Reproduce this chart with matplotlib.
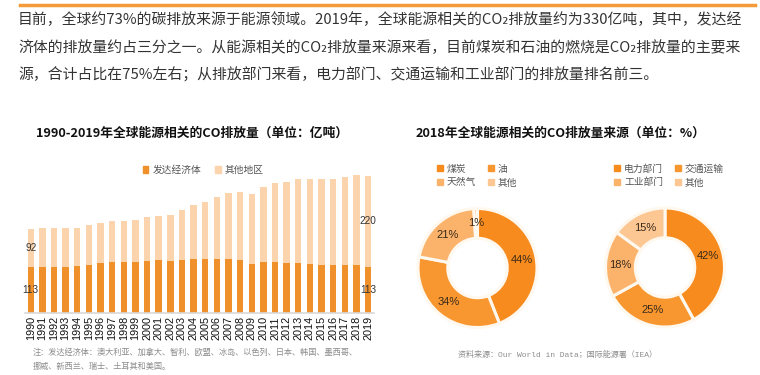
import matplotlib
matplotlib.use("Agg")
import matplotlib.pyplot as plt
from matplotlib.patches import Patch
from matplotlib.lines import Line2D
import numpy as np

plt.rcParams['font.family'] = ['Noto Sans CJK SC', 'DejaVu Sans']

# ---------------- data ----------------
years = [str(y) for y in range(1990, 2020)]
developed = [113, 113, 113, 113, 115, 117, 121, 124, 124, 124, 127, 129, 127, 129, 131,
             131, 131, 131, 129, 120, 124, 123, 121, 121, 120, 118, 118, 118, 118, 113]
other_regions = [92, 93, 93, 93, 92, 97, 97, 99, 99, 101, 105, 106, 112, 121, 130,
                 139, 150, 159, 164, 169, 182, 192, 197, 203, 205, 206, 206, 211, 217, 220]
bar_series = ['发达经济体', '其他地区']

fuel_labels = ['煤炭', '油', '天然气', '其他']
fuel_values = [44, 34, 21, 1]
sector_labels = ['电力部门', '交通运输', '工业部门', '其他']
sector_values = [42, 25, 18, 15]

para_lines = [
    '目前，全球约73%的碳排放来源于能源领域。2019年，全球能源相关的CO₂排放量约为330亿吨，其中，发达经',
    '济体的排放量约占三分之一。从能源相关的CO₂排放量来源来看，目前煤炭和石油的燃烧是CO₂排放量的主要来',
    '源，合计占比在75%左右；从排放部门来看，电力部门、交通运输和工业部门的排放量排名前三。',
]
title_left = '1990-2019年全球能源相关的CO排放量（单位：亿吨）'
title_right = '2018年全球能源相关的CO排放量来源（单位：%）'
note_lines = ['注：发达经济体：澳大利亚、加拿大、智利、欧盟、冰岛、以色列、日本、韩国、墨西哥、',
              '挪威、新西兰、瑞士、土耳其和美国。']
source_text = '资料来源：Our World in Data；国际能源署（IEA）'

# ---------------- style ----------------
W, H = 760, 375
C_DEV = '#F0902A'
C_OTH = '#FBD3AC'
PIE_COLORS = ['#F78B1E', '#F8962F', '#FBB36B', '#FCC793']
TXT = '#333333'

fig = plt.figure(figsize=(W / 100, H / 100), dpi=100)
fig.patch.set_facecolor('white')

def fx(px):
    return px / W

def fy(py):
    return 1 - py / H

# top rule
fig.add_artist(Line2D([fx(20), fx(755)], [fy(5), fy(5)], color='#F29B38', lw=2.5))

# paragraph
for i, line in enumerate(para_lines):
    fig.text(fx(18), fy(20 + 27.5 * i), line, fontsize=10.7, color=TXT,
             va='center', ha='left')

# ---------------- bar chart ----------------
ax = fig.add_axes([fx(24.9), fy(313.3), fx(349), 153.3 / H])
x = np.arange(len(years))
ax.bar(x, developed, width=0.55, color=C_DEV, zorder=2)
ax.bar(x, other_regions, width=0.55, bottom=developed, color=C_OTH, zorder=2)
ax.set_xlim(-0.5, len(years) - 0.5)
ax.set_ylim(0, 371)
for s in ['top', 'right', 'left']:
    ax.spines[s].set_visible(False)
ax.spines['bottom'].set_color('#D9D9D9')
ax.spines['bottom'].set_linewidth(1.2)
ax.set_yticks([])
ax.set_xticks(x)
ax.set_xticklabels(years, rotation=90, fontsize=7.8, family=['Liberation Sans'],
                   color='#111111')
ax.tick_params(axis='x', length=0, pad=2)
for i in [0, len(years) - 1]:
    ax.text(x[i], developed[i] / 2, str(developed[i]), ha='center', va='center',
            fontsize=7.2, family=['Liberation Sans'], color=TXT, zorder=3)
    ax.text(x[i], developed[i] + other_regions[i] / 2, str(other_regions[i]),
            ha='center', va='center', fontsize=7.2, family=['Liberation Sans'],
            color=TXT, zorder=3)

fig.text(fx(192), fy(133), title_left, ha='center', va='center', fontsize=9.2,
         fontweight='bold', color='#111111')

leg_handles = [Patch(color=C_DEV), Patch(color=C_OTH)]
fig.legend(leg_handles, bar_series, loc='center', bbox_to_anchor=(fx(203), fy(170)),
           ncol=2, frameon=False, fontsize=7, handlelength=0.6, handleheight=0.6,
           handletextpad=0.4, columnspacing=1.4, labelcolor='#555555')

for i, line in enumerate(note_lines):
    fig.text(fx(33), fy(352 + 14 * i), line, fontsize=5.9, color='#8C8C8C',
             ha='left', va='center')

# ---------------- donuts ----------------
R = 59.5
def donut(cx, cy, values, labels, legend_cx):
    size = 2.5 * R
    a = fig.add_axes([fx(cx - size / 2), fy(cy + size / 2), fx(size), size / H])
    a.pie(values, colors=PIE_COLORS, startangle=90, counterclock=False,
          radius=1, autopct='%d%%', pctdistance=0.75,
          wedgeprops=dict(width=0.5, edgecolor='#FFF8EE', linewidth=2.2),
          textprops=dict(fontsize=8, color='#3A2A1A', family=['Liberation Sans']))
    a.set_xlim(-1.25, 1.25)
    a.set_ylim(-1.25, 1.25)
    a.set_aspect('equal')
    handles = [Patch(color=c) for c in PIE_COLORS]
    order = [0, 2, 1, 3]
    fig.legend([handles[k] for k in order], [labels[k] for k in order], loc='center',
               bbox_to_anchor=(fx(legend_cx), fy(175.5)), ncol=2, frameon=False,
               fontsize=7, handlelength=0.6, handleheight=0.6, handletextpad=0.4,
               columnspacing=1.2, labelspacing=0.4, labelcolor='#555555')

donut(477.5, 268, fuel_values, fuel_labels, 477)
donut(665, 267.5, sector_values, sector_labels, 669)

fig.text(fx(561), fy(133), title_right, ha='center', va='center', fontsize=9.2,
         fontweight='bold', color='#111111')

fig.text(fx(458), fy(355), source_text, ha='left', va='center', fontsize=5.8,
         color='#8C8C8C', family=['Liberation Mono', 'Noto Sans CJK SC'])

fig.savefig('out.png', dpi=100, facecolor='white')
